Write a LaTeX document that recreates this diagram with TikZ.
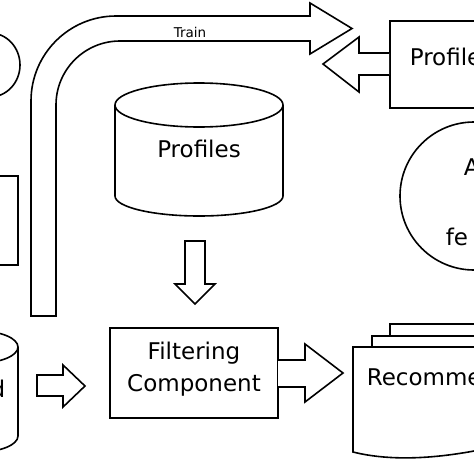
\documentclass[tikz,border=0pt]{standalone}
\usepackage{fontspec}
\setmainfont{DejaVu Sans}
\usetikzlibrary{positioning}

\begin{document}
\begin{tikzpicture}[x=1pt, y=1pt, line width=1.6pt,
	txt/.style={inner sep=0pt, font=\fontsize{23}{32}\selectfont},
	small/.style={inner sep=0pt, font=\fontsize{13.5}{16}\selectfont},
	box/.style={draw, fill=white, inner sep=0pt},
	blk/.style={draw, fill=white, line join=miter}]
	\useasboundingbox (0,0) rectangle (474,-474);
	\clip (0,0) rectangle (474,-474);

	% left edge (cut off)
	\draw (-10,-65) ellipse [x radius=30, y radius=32];
	\node[box, minimum width=40, minimum height=89, anchor=north east] (input) at (19,-175) {};

	% train arrow
	\draw[blk] (31,-316) -- (31,-101) arc[start angle=180, end angle=90, radius=85]
		-- (310,-16) -- (310,-3) -- (352,-28.5) -- (310,-54) -- (310,-41)
		-- (120,-41) arc[start angle=90, end angle=180, radius=64] -- (56,-316) -- cycle;
	\node[small, anchor=base west] (train) at (173,-37) {Train};

	% profiles store
	\draw[fill=white] (115,-105) -- (115,-196) arc[start angle=180, end angle=360, x radius=84, y radius=20] -- (283,-105);
	\draw (199,-105) ellipse [x radius=84, y radius=22];
	\node[txt] (profiles) at (199,-148.5) {Profiles};
	\draw[blk] (185,-241) -- (205,-241) -- (205,-284) -- (215,-284) -- (195,-304)
		-- (175,-284) -- (185,-284) -- cycle;

	% filtering
	\node[box, minimum width=168, minimum height=90] (filter) at (194,-373) {};
	\node[txt, align=center] (filtertxt) at ([yshift=4]filter.center) {Filtering\\Component};
	\draw[blk] (278,-360) -- (305,-360) -- (305,-344) -- (343,-373) -- (305,-402)
		-- (305,-387) -- (278,-387);

	% left store (cut off)
	\draw[fill=white] (-60,-347) -- (-60,-436) arc[start angle=180, end angle=360, x radius=39, y radius=16] -- (18,-347);
	\draw (-21,-347) ellipse [x radius=39, y radius=16];
	\node[txt, anchor=base east] (store) at (6,-397) {d};
	\draw[blk] (37,-375) -- (63,-375) -- (63,-365) -- (85,-386) -- (63,-407)
		-- (63,-396) -- (37,-396) -- cycle;

	% profile box, top right
	\node[box, minimum width=110, minimum height=87, anchor=north west] (learner) at (389,-20) {};
	\node[txt, anchor=base west] (learnertxt) at (409,-65) {Profile};
	\draw[blk] (389,-53) -- (359,-53) -- (359,-37) -- (323,-64) -- (359,-92)
		-- (359,-75) -- (389,-75);

	% ellipse, right
	\draw (474,-196) ellipse [x radius=74, y radius=74];
	\node[txt, anchor=base west] (fbtop) at (463,-175) {A};
	\node[txt, anchor=base west] (fbbot) at (445,-245) {fe};

	% recommendations (stack of pages)
	\draw[fill=white] (390,-324) rectangle (500,-420);
	\draw[fill=white] (372,-336) rectangle (500,-430);
	\draw[fill=white] (353,-347) -- (500,-347) -- (500,-446)
		.. controls (490,-448) .. (474,-451)
		.. controls (425,-460) and (385,-460) .. (353,-452) -- cycle;
	\node[txt, anchor=base west] (rec) at (366,-385) {Recommendations};
\end{tikzpicture}
\end{document}
